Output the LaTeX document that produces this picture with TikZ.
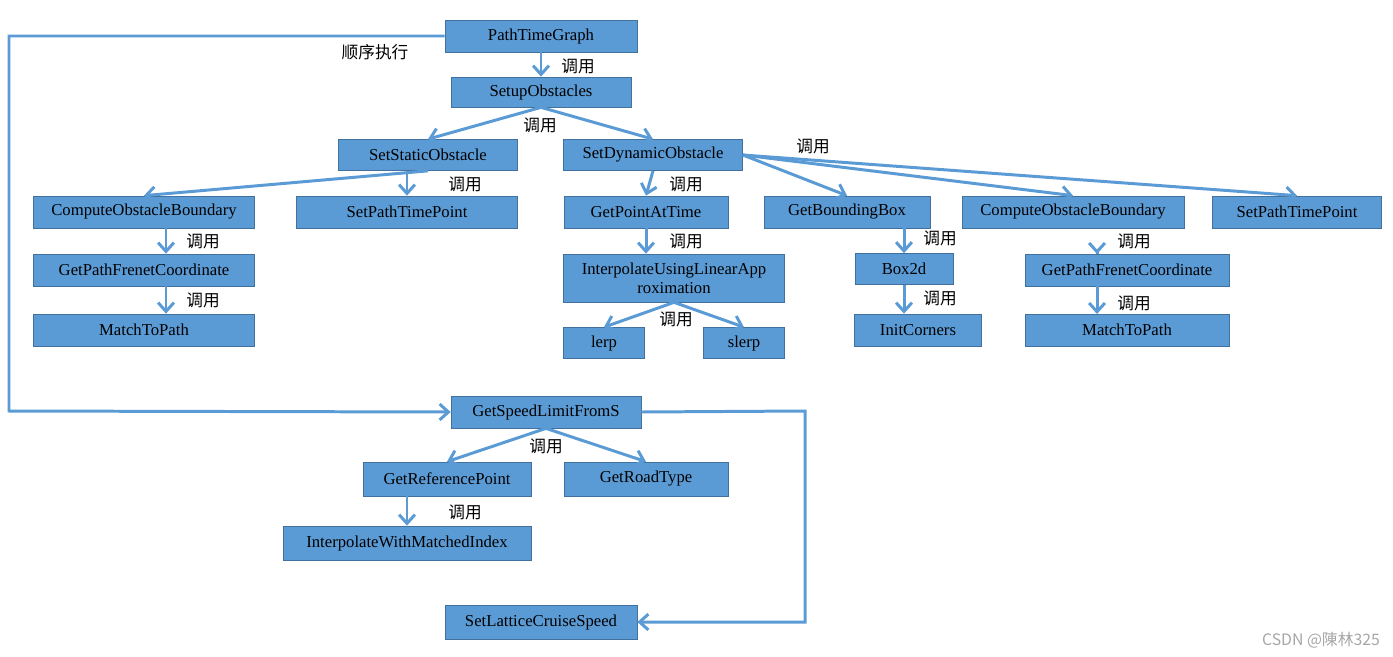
\documentclass[tikz,border=0pt]{standalone}
\usepackage{fontspec}
\setmainfont{Liberation Serif}
\newfontfamily\cjk{Noto Sans CJK SC}
\usetikzlibrary{arrows.meta, positioning}
\definecolor{boxblue}{HTML}{5B9BD5}
\definecolor{boxedge}{HTML}{41719C}
\tikzset{
    fn/.style={draw=boxedge, fill=boxblue, inner sep=0pt, font=\fontsize{9.5}{11}\selectfont, align=center},
    call/.style={draw=boxblue, line width=1.7pt, -{Straight Barb[length=5pt,width=9pt]}},
    lbl/.style={font=\cjk\fontsize{9.5}{11}\selectfont}
}
\begin{document}
\begin{tikzpicture}[x=0.02cm, y=-0.02cm]
        \useasboundingbox (0,0) rectangle (1393,656);
        % function boxes: name/center/width/height
        \foreach \n/\x/\y/\w/\h/\t in {
            ptg/541/36/192/32/PathTimeGraph,
            setup/541/92/180/30/SetupObstacles,
            stat/428/155/179/31/SetStaticObstacle,
            dyn/653/155/179/31/SetDynamicObstacle,
            cobl/144/212/221/32/ComputeObstacleBoundary,
            sptl/407/212/221/32/SetPathTimePoint,
            gpat/646/212/164/32/GetPointAtTime,
            gbb/847/212/166/32/GetBoundingBox,
            cobr/1073/212/222/32/ComputeObstacleBoundary,
            sptr/1297/212/169/32/SetPathTimePoint,
            gpfl/144/270/221/32/GetPathFrenetCoordinate,
            box/904/269/98/31/Box2d,
            gpfr/1127/270/204/32/GetPathFrenetCoordinate,
            mtpl/144/330/221/32/MatchToPath,
            lerp/604/343/81/31/lerp,
            slerp/744/343/81/31/slerp,
            init/918/330/127/32/InitCorners,
            mtpr/1127/330/204/32/MatchToPath,
            gsl/546/412/190/32/GetSpeedLimitFromS,
            grp/447/479/168/34/GetReferencePoint,
            grt/646/479/164/34/GetRoadType,
            iwm/407/543/248/34/InterpolateWithMatchedIndex,
            slc/541/622/192/34/SetLatticeCruiseSpeed} {
            \node[fn, minimum width=\w*0.02cm, minimum height=\h*0.02cm] (\n) at (\x,\y) {\t};
        }
        \node[fn, minimum width=221*0.02cm, minimum height=48*0.02cm] (ilin) at (674,278) {InterpolateUsingLinearApp\\roximation};

        % calls
        \draw[call] (ptg) -- (setup);
        \draw[call] (setup.south) -- (stat.north);
        \draw[call] (setup.south) -- (dyn.north);
        \draw[call] (stat.south) -- (cobl.north);
        \draw[call] (sptl.north |- stat.south) -- (sptl.north);
        \draw[call] (dyn.south) -- (gpat.north);
        \draw[call] (dyn.east) -- (gbb.north);
        \draw[call] (dyn.east) -- (cobr.north);
        \draw[call] (dyn.east) -- (sptr.north);
        \draw[call] ([xshift=22*0.02cm]cobl.south) -- ([xshift=22*0.02cm]gpfl.north);
        \draw[call] ([xshift=22*0.02cm]gpfl.south) -- ([xshift=22*0.02cm]mtpl.north);
        \draw[call] (gpat.south) -- (gpat.south |- ilin.north);
        \draw[call] (ilin.south) -- (lerp.north);
        \draw[call] (ilin.south) -- (slerp.north);
        \draw[call] (box.north |- gbb.south) -- (box.north);
        \draw[call] (box.south) -- (box.south |- init.north);
        \draw[call] (gpfr.north -| 1097,0) -- (1097,254);
        \draw[call] (gpfr.south -| 1097,0) -- (1097,314);
        \draw[call] (gsl.south) -- (grp.north);
        \draw[call] (gsl.south) -- (grt.north);
        \draw[call] (iwm.north |- grp.south) -- (iwm.north);

        % sequence
        \draw[call] (ptg.west) -- (9,36) -- (9,411) -- (gsl.west);
        \draw[call] (gsl.east) -- (805,411) -- (805,622) -- (slc.east);

        % labels
        \foreach \x/\y in {578/66, 540/125, 465/184, 813/146, 686/184, 203/241, 203/300,
                           686/241, 676/319, 940/238, 940/298, 1134/241, 1134/303, 546/446, 465/512} {
            \node[lbl] at (\x,\y) {调用};
        }
        \node[lbl] at (375,52) {顺序执行};
        \node[lbl, text=gray!70, font=\cjk\fontsize{9}{10}\selectfont] at (1321,640) {CSDN @陳林325};
    \end{tikzpicture}
\end{document}
